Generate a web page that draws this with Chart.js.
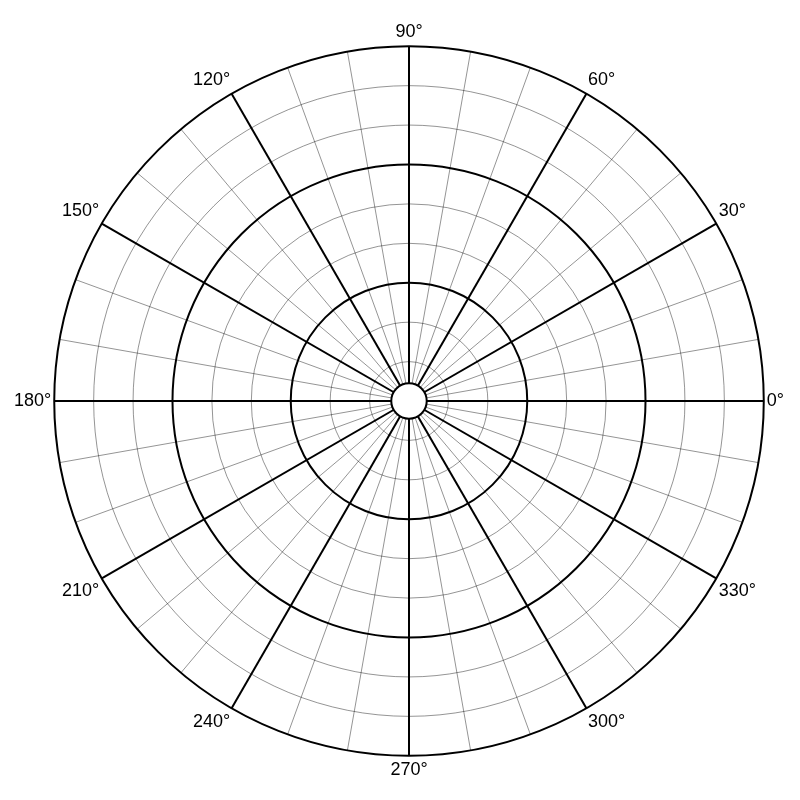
<!DOCTYPE html>
<html>
<head>
<meta charset="utf-8">
<script src="https://cdn.jsdelivr.net/npm/chart.js@4/dist/chart.umd.min.js"></script>
<style>
  html, body { margin: 0; padding: 0; background: #fff; }
  #wrap { width: 800px; height: 800px; }
</style>
</head>
<body>
<div id="wrap"><canvas id="polarGrid"></canvas></div>
<script>
// spokes, listed clockwise starting from the right (0°)
const angles = [0, 350, 340, 330, 320, 310, 300, 290, 280, 270, 260, 250, 240, 230, 220, 210, 200, 190,
  180, 170, 160, 150, 140, 130, 120, 110, 100, 90, 80, 70, 60, 50, 40, 30, 20, 10];
const labelledAngles = [0, 30, 60, 90, 120, 150, 180, 210, 240, 270, 300, 330];
const rings = [0, 1, 2, 3, 4, 5, 6, 7, 8, 9];
const majorRings = [3, 6, 9];
const hubRadius = 0.45;

const thin = "rgba(0, 0, 0, 0.42)";

// white hub with a black outline at the centre
const hubPlugin = {
  id: "hub",
  afterDraw(chart) {
    const r = chart.scales.r;
    const ctx = chart.ctx;
    ctx.save();
    ctx.beginPath();
    ctx.arc(r.xCenter, r.yCenter, r.getDistanceFromCenterForValue(hubRadius), 0, Math.PI * 2);
    ctx.fillStyle = "#fff";
    ctx.fill();
    ctx.lineWidth = 2;
    ctx.strokeStyle = "#000";
    ctx.stroke();
    ctx.restore();
  },
};

const ctx = document.getElementById("polarGrid").getContext("2d");
new Chart(ctx, {
  type: "radar",
  data: {
    labels: angles,
    datasets: [],
  },
  plugins: [hubPlugin],
  options: {
    responsive: true,
    maintainAspectRatio: false,
    animation: false,
    layout: { padding: { left: 4, right: 5, top: 8, bottom: 4 } },
    plugins: { legend: { display: false }, tooltip: { enabled: false } },
    scales: {
      r: {
        min: rings[0],
        max: rings[rings.length - 1],
        startAngle: 90,
        ticks: { display: false, stepSize: 1 },
        grid: {
          circular: true,
          color: (c) => (majorRings.includes(c.tick.value) ? "#000" : thin),
          lineWidth: (c) => (majorRings.includes(c.tick.value) ? 2 : 1),
        },
        angleLines: {
          color: (c) => (labelledAngles.includes(angles[c.index]) ? "#000" : thin),
          lineWidth: (c) => (labelledAngles.includes(angles[c.index]) ? 2 : 1),
        },
        pointLabels: {
          padding: 3,
          color: "#000",
          font: { family: "'Liberation Sans', Arial, sans-serif", size: 18 },
          callback: (label) => (labelledAngles.includes(label) ? label + "°" : ""),
        },
      },
    },
  },
});
</script>
</body>
</html>
